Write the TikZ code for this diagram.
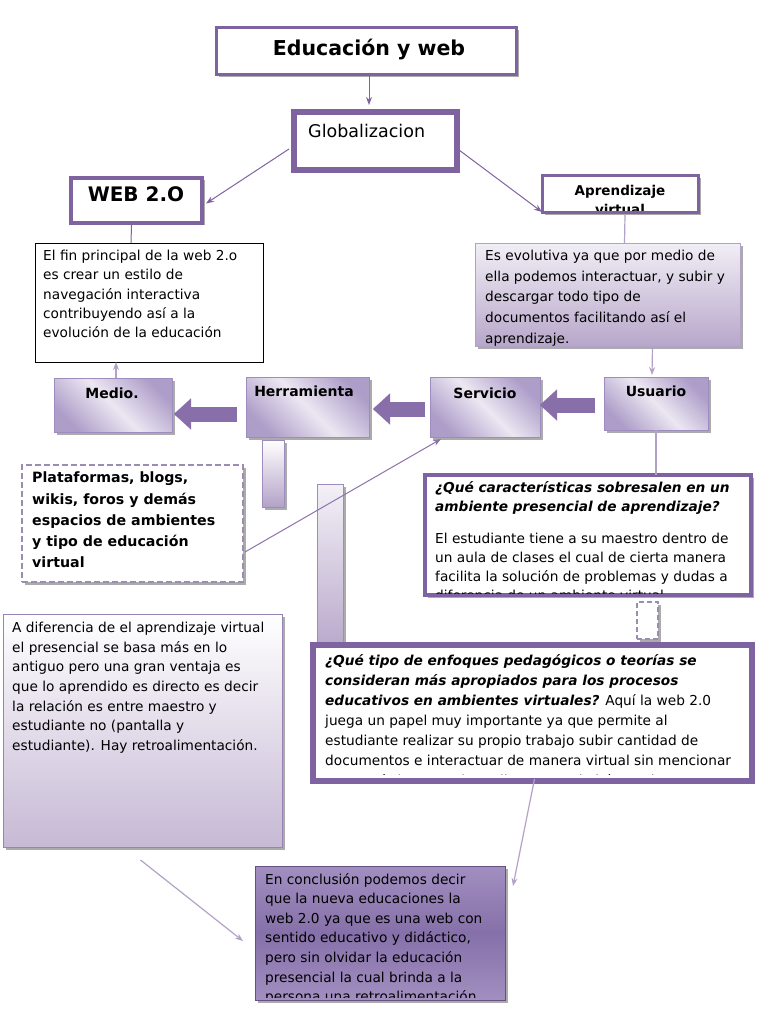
\documentclass[tikz,border=0pt]{standalone}
\usepackage{fontspec}
\setmainfont{DejaVu Sans}
\usetikzlibrary{shadows,arrows.meta,calc}
\definecolor{pur}{HTML}{7F63A1}
\definecolor{lav}{HTML}{B3A2C7}
\definecolor{lavd}{HTML}{9F8CBF}
\definecolor{lavl}{HTML}{ECE7F2}
\definecolor{concl}{HTML}{A28FC0}
\definecolor{concd}{HTML}{8670A9}
\definecolor{dashc}{HTML}{9A8DB0}
\tikzset{
  shad/.style={drop shadow={shadow xshift=2.5pt,shadow yshift=-2.5pt,fill=black!60,opacity=.55}},
  box/.style={rectangle,inner sep=0pt,outer sep=0pt,anchor=north west},
  thickbox/.style={box,draw=pur,line width=3.5pt,fill=white,shad},
  sheen/.style={box,draw=lavd,line width=.8pt,shad,left color=lavd!85,right color=lavd!85,middle color=lavl,shading angle=135},
  vbar/.style={box,draw=lavd,line width=.8pt,shad,top color=white,bottom color=lav},
  thin/.style={draw=pur,line width=1pt,-{Stealth[length=8pt,width=6pt]}},
  lavline/.style={draw=lav,line width=1.2pt,-{Stealth[length=8pt,width=6pt]}},
  plain/.style={draw=lav,line width=1.2pt},
  fat/.style={draw=pur!92,line width=15pt,-{Triangle[length=17pt,width=31pt,line width=0.1pt]}},
  body/.style={inner sep=0pt,anchor=north west,align=left,font=\fontsize{13.7}{19.5}\selectfont},
  lbl/.style={inner sep=0pt,anchor=base,font=\fontsize{14}{16}\selectfont\bfseries}
}
\begin{document}
\begin{tikzpicture}[x=1pt,y=-1pt]
\useasboundingbox (0,0) rectangle (768,1024);
\fill[white] (0,0) rectangle (768,1024);

% boxes
\node[thickbox,line width=3pt,minimum width=300pt,minimum height=47pt] (edu) at (216,28) {};
\node[font=\fontsize{20.5}{24}\selectfont\bfseries,anchor=base] (edut) at (369,56) {Educación y web};

\node[thickbox,line width=5.5pt,minimum width=163pt,minimum height=58pt] (glob) at (294,112) {};
\node[font=\fontsize{17.5}{20}\selectfont,anchor=base west,inner sep=0pt] (globt) at (308,138) {Globalizacion};

\node[thickbox,line width=4pt,minimum width=131pt,minimum height=45pt] (web) at (71,178) {};
\node[font=\fontsize{20}{24}\selectfont\bfseries,anchor=base,inner sep=0pt] (webtit) at (136,202) {WEB 2.O};

\node[box,draw=black,line width=.9pt,fill=white,minimum width=228pt,minimum height=119pt] (webt) at (35,243) {};
\node[body,font=\fontsize{13.7}{19.2}\selectfont] (webtt) at (43,250) {El fin principal de la web 2.o\\es crear un estilo de\\navegación interactiva\\contribuyendo así a la\\evolución de la educación};

\node[thickbox,line width=3pt,minimum width=156pt,minimum height=37pt] (apr) at (542,176) {};
\begin{scope}
\clip (544,178) rectangle (696,211);
\node[inner sep=0pt,anchor=north,align=center,font=\fontsize{13.5}{19}\selectfont\bfseries] (aprt) at (620,185) {Aprendizaje\\virtual};
\end{scope}

\node[box,draw=lav,line width=.8pt,shad,top color=lavl!70!white,bottom color=lav!95,minimum width=265pt,minimum height=103pt] (evo) at (475,243) {};
\node[body,font=\fontsize{13.7}{20.6}\selectfont] (evot) at (485,250) {Es evolutiva ya que por medio de\\ella podemos interactuar, y subir y\\descargar todo tipo de\\documentos facilitando así el\\aprendizaje.};

% row of concepts
\node[sheen,minimum width=104pt,minimum height=53pt] (usu) at (604,377) {};
\node[lbl] (usut) at (656,396) {Usuario};
\node[sheen,minimum width=110pt,minimum height=60pt] (serv) at (430,377) {};
\node[lbl] (servt) at (485,398) {Servicio};
\node[sheen,minimum width=123pt,minimum height=60pt] (herr) at (246,377) {};
\node[lbl] (herrt) at (304,396) {Herramienta};
\node[sheen,minimum width=118pt,minimum height=54pt] (medio) at (54,378) {};
\node[lbl] (mediot) at (112,398) {Medio.};

\draw[fat] ($(usu.west)+(-9,1.5)$) -- ($(serv.east)+(0,-2)$);
\draw[fat] ($(serv.west)+(-5,2)$) -- ($(herr.east)+(4,2)$);
\draw[fat] ($(herr.west)+(-9,7)$) -- ($(medio.east)+(2,9)$);

% bars
\node[vbar,minimum width=22pt,minimum height=67pt] (bar1) at (262,440) {};
\node[vbar,top color=lavl!60!white,bottom color=lav!90,minimum width=26pt,minimum height=158pt] (bar2) at (317,484) {};

% dashed box
\node[box,draw=dashc,line width=1.4pt,dash pattern=on 6pt off 3pt,fill=white,shad,minimum width=221pt,minimum height=117pt] (plat) at (22,465) {};
\node[body,font=\fontsize{14.2}{21.2}\selectfont\bfseries] (platt) at (32,472) {Plataformas, blogs,\\wikis, foros y demás\\espacios de ambientes\\y tipo de educación\\virtual};

% question 1
\node[thickbox,minimum width=326pt,minimum height=120pt] (q1) at (425,475) {};
\begin{scope}
\clip (428,478) rectangle (749,593);
\node[body,font=\fontsize{13.7}{19}\selectfont] (q1t) at (435,481) {\textbf{\textit{¿Qué características sobresalen en un}}\\\textbf{\textit{ambiente presencial de aprendizaje?}}\\[13.5pt]%
\fontsize{13.7}{20.5}\selectfont El estudiante tiene a su maestro dentro de\\un aula de clases el cual de cierta manera\\facilita la solución de problemas y dudas a\\diferencia de un ambiente virtual};
\end{scope}

\node[box,draw=dashc,line width=1.2pt,dash pattern=on 5pt off 3pt,fill=white,shad,minimum width=21pt,minimum height=37pt] (dbox) at (637,602) {};

% question 2
\node[thickbox,line width=5.5pt,minimum width=439pt,minimum height=136pt] (q2) at (313,645) {};
\begin{scope}
\clip (317,649) rectangle (749,774);
\node[body,font=\fontsize{13.7}{20}\selectfont] (q2t) at (325,654) {\textbf{\textit{¿Qué tipo de enfoques pedagógicos o teorías se}}\\\textbf{\textit{consideran más apropiados para los procesos}}\\\textbf{\textit{educativos en ambientes virtuales?}} Aquí la web 2.0\\juega un papel muy importante ya que permite al\\estudiante realizar su propio trabajo subir cantidad de\\documentos e interactuar de manera virtual sin mencionar\\que aquí el personaje realiza su propia búsqueda};
\end{scope}

% left box
\node[box,draw=pur!80,line width=.8pt,shad,top color=white,bottom color=lav!75,minimum width=279pt,minimum height=233pt] (left) at (3,614) {};
\node[body,font=\fontsize{13.7}{19.6}\selectfont] (leftt) at (12,622) {A diferencia de el aprendizaje virtual\\el presencial se basa más en lo\\antiguo pero una gran ventaja es\\que lo aprendido es directo es decir\\la relación es entre maestro y\\estudiante no (pantalla y\\estudiante). Hay retroalimentación.};

% conclusion
\node[box,draw=pur!80!black,line width=.8pt,shad,top color=concl,bottom color=concl,middle color=concd,minimum width=250pt,minimum height=134pt] (conc) at (255,866) {};
\begin{scope}
\clip (256,867) rectangle (504,997);
\node[body,font=\fontsize{13.7}{19.6}\selectfont] (conct) at (265,873) {En conclusión podemos decir\\que la nueva educaciones la\\web 2.0 ya que es una web con\\sentido educativo y didáctico,\\pero sin olvidar la educación\\presencial la cual brinda a la\\persona una retroalimentación};
\end{scope}

% connectors
\draw[thin] (edu.south -| edut) -- ($(edut |- glob.north)+(0,-7)$);
\draw[thin] ($(glob.west)+(-5,8)$) -- ($(web.east)+(4,3)$);
\draw[thin] ($(glob.east)+(2,9)$) -- ($(apr.south west)+(0,-1)$);
\draw[draw=pur,line width=1pt] ($(web.south)+(-5,2)$) -- ($(webt.north)+(-18,0)$);
\draw[plain] ($(apr.south)+(5,2)$) -- ($(evo.north)+(17,0)$);
\draw[lavline] ($(evo.south)+(45,0)$) -- ($(usu.north)+(-4,-2)$);
\draw[lavline] ($(medio.north)+(3,0)$) -- ($(webt.south)+(-33,0)$);
\draw[plain] (usu.south) -- (usu.south |- q1.north);
\draw[thin,draw=pur!90] ($(plat.south east)+(2,-30)$) -- ($(serv.south west)+(11,2)$);
\draw[lavline] ($(left.south)+(-2,13)$) -- ($(conc.west)+(-12,8)$);
\draw[lavline] ($(q2.south)+(2,-2)$) -- ($(conc.north east)+(8,20)$);
\end{tikzpicture}
\end{document}
